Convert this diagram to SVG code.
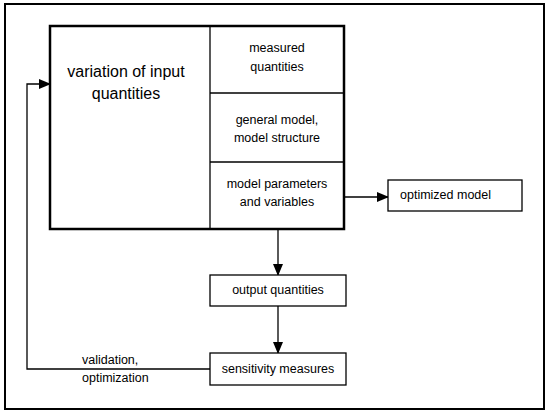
<svg xmlns="http://www.w3.org/2000/svg" width="550" height="414" viewBox="0 0 550 414">
<defs>
<marker id="ah" markerWidth="12" markerHeight="10" refX="11" refY="5" orient="auto" markerUnits="userSpaceOnUse">
<path d="M0,0 L12,5 L0,10 Z" fill="#000"/>
</marker>
<style>
text{font-family:"Liberation Sans",Arial,sans-serif;fill:#000}
.s{font-size:12.5px}
.b{font-size:16px}
.box{fill:#fff;stroke:#000;stroke-width:1.3}
.c{fill:none;stroke:#000;stroke-width:1.3}
</style>
</defs>
<rect x="0" y="0" width="550" height="414" fill="#fff"/>
<rect x="5" y="4" width="539" height="405" fill="none" stroke="#000" stroke-width="2"/>
<g id="connectors">
<line class="c" x1="345" y1="197" x2="388" y2="197" marker-end="url(#ah)"/>
<line class="c" x1="278" y1="230" x2="278" y2="275" marker-end="url(#ah)"/>
<line class="c" x1="278" y1="306" x2="278" y2="353" marker-end="url(#ah)"/>
<polyline class="c" points="210,369 27,369 27,84 50,84" marker-end="url(#ah)"/>
<text class="s" x="82" y="364">validation,</text>
<text class="s" x="82" y="382">optimization</text>
</g>
<g id="main">
<rect x="50" y="26" width="294" height="203" fill="#fff" stroke="#000" stroke-width="2.5"/>
<line x1="210" y1="26" x2="210" y2="229" stroke="#000" stroke-width="1.3"/>
<line x1="210" y1="93" x2="344" y2="93" stroke="#000" stroke-width="1.3"/>
<line x1="210" y1="162" x2="344" y2="162" stroke="#000" stroke-width="1.3"/>
</g>
<g id="variation">
<text class="b" x="126" y="77" text-anchor="middle">variation of input</text>
<text class="b" x="126" y="99" text-anchor="middle">quantities</text>
</g>
<g id="measured">
<text class="s" x="277" y="52" text-anchor="middle">measured</text>
<text class="s" x="277" y="71" text-anchor="middle">quantities</text>
</g>
<g id="general">
<text class="s" x="277" y="124" text-anchor="middle">general model,</text>
<text class="s" x="277" y="142" text-anchor="middle">model structure</text>
</g>
<g id="params">
<text class="s" x="277" y="188" text-anchor="middle">model parameters</text>
<text class="s" x="277" y="206" text-anchor="middle">and variables</text>
</g>
<g id="optimized">
<rect class="box" x="388" y="180" width="134" height="31"/>
<text class="s" x="400" y="199">optimized model</text>
</g>
<g id="output">
<rect class="box" x="210" y="275" width="136" height="31"/>
<text class="s" x="278" y="294" text-anchor="middle">output quantities</text>
</g>
<g id="sensitivity">
<rect class="box" x="210" y="353" width="136" height="32"/>
<text class="s" x="278" y="373" text-anchor="middle">sensitivity measures</text>
</g>
</svg>
